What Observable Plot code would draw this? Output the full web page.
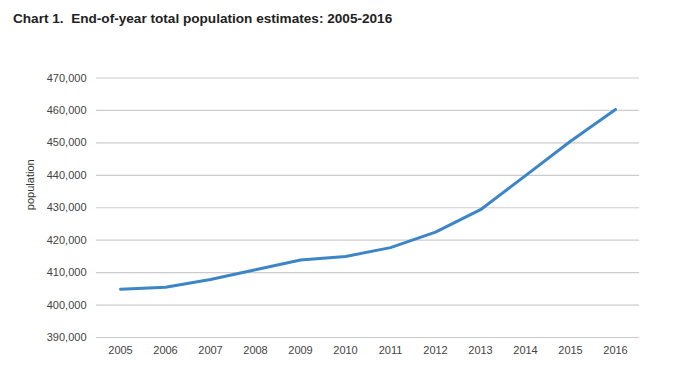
<!DOCTYPE html>
<html>
<head>
<meta charset="utf-8">
<script src="https://cdn.jsdelivr.net/npm/d3@7"></script>
<script src="https://cdn.jsdelivr.net/npm/@observablehq/plot@0.6"></script>
<style>
  html, body { margin: 0; padding: 0; background: #fff; }
  body { width: 684px; height: 374px; overflow: hidden; font-family: "Liberation Sans", Arial, sans-serif; }
  #title { height: 40px; box-sizing: border-box; padding: 11px 0 0 13px; font-size: 13.6px; font-weight: bold; color: #222; }
  #chart svg { display: block; }
</style>
</head>
<body>
<div id="title">Chart 1.&nbsp; End-of-year total population estimates: 2005-2016</div>
<div id="chart"></div>
<script>
const years = ["2005","2006","2007","2008","2009","2010","2011","2012","2013","2014","2015","2016"];
const population = [404900, 405500, 407900, 410900, 413900, 415000, 417700, 422500, 429400, 439900, 450500, 460300];
const yTicks = [390000, 400000, 410000, 420000, 430000, 440000, 450000, 460000, 470000];
const yLabel = ["population"];

const data = years.map((y, i) => ({year: y, population: population[i]}));

const chart = Plot.plot({
  width: 684,
  height: 334,
  marginTop: 37.5,
  marginBottom: 37,
  marginLeft: 96,
  marginRight: 45,
  style: {fontFamily: "'Liberation Sans', Arial, sans-serif", fontSize: "11px", color: "#444", background: "#fff"},
  x: {type: "point", domain: years, padding: 0.5, label: null},
  y: {domain: [390000, 470000], label: null},
  marks: [
    Plot.ruleY(yTicks, {stroke: "#ccc", strokeWidth: 1.2}),
    Plot.axisX({tickSize: 0, tickPadding: 9, fill: "#444", fontSize: 11}),
    Plot.axisY({ticks: yTicks, tickSize: 0, tickPadding: 10, tickFormat: d3.format(","), fill: "#444", fontSize: 11, label: null}),
    Plot.text(yLabel, {text: d => d, frameAnchor: "left", textAnchor: "middle", rotate: -90, dx: -66, dy: -23, fill: "#333", fontSize: 11}),
    Plot.line(data, {x: "year", y: "population", stroke: "#3d85c6", strokeWidth: 3, strokeLinejoin: "round", strokeLinecap: "round"})
  ]
});
document.getElementById("chart").appendChild(chart);
</script>
</body>
</html>
